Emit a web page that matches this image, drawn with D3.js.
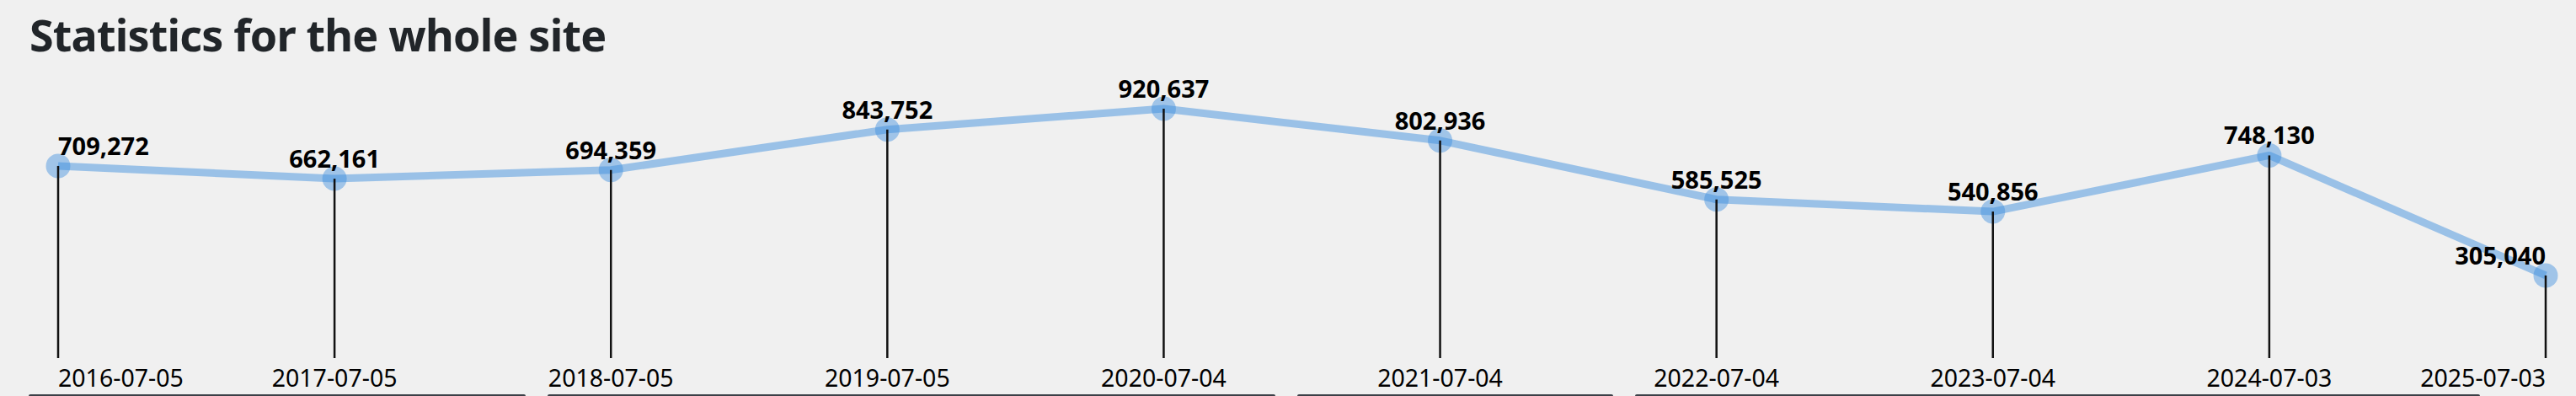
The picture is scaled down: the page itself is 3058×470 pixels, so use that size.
<!DOCTYPE html>
<html>
<head>
<meta charset="utf-8">
<script src="https://cdnjs.cloudflare.com/ajax/libs/d3/7.8.5/d3.min.js"></script>
<style>
  html, body { margin: 0; padding: 0; background: #f0f0f0; }
  svg { display: block; }
</style>
</head>
<body>
<svg id="chart"></svg>
<script>
// data
var dates = ["2016-07-05", "2017-07-05", "2018-07-05", "2019-07-05", "2020-07-04",
             "2021-07-04", "2022-07-04", "2023-07-04", "2024-07-03", "2025-07-03"];
var visits = [709272, 662161, 694359, 843752, 920637, 802936, 585525, 540856, 748130, 305040];
var title = "Statistics for the whole site";

var width = 3058, height = 470;

var svg = d3.select("#chart")
    .attr("width", width)
    .attr("height", height);

svg.append("rect")
    .attr("width", width)
    .attr("height", height)
    .attr("fill", "#f0f0f0");

// title
svg.append("text")
    .attr("x", 35)
    .attr("y", 61)
    .attr("fill", "#212529")
    .style("font-family", "'Noto Sans', sans-serif")
    .style("font-weight", "bold")
    .style("font-size", "52px")
    .style("letter-spacing", "-0.8px")
    .text(title);

var data = dates.map(function(d, i) { return {date: d, value: visits[i]}; });

// scales
var x = d3.scalePoint()
    .domain(dates)
    .range([69, 3022]);

var y = d3.scaleLinear()
    .domain([0, d3.max(visits)])
    .range([425, 129]);

var last = dates.length - 1;
function anchor(d, i) {
    if (i == 0) return "start";
    if (i == last) return "end";
    return "middle";
}

// line
var line = d3.line()
    .x(function(d) { return x(d.date); })
    .y(function(d) { return y(d.value); });

svg.append("path")
    .datum(data)
    .attr("d", line)
    .attr("fill", "none")
    .attr("stroke", "#3d8fdd")
    .attr("stroke-opacity", 0.48)
    .attr("stroke-width", 9)
    .attr("stroke-linejoin", "round");

// dots
svg.selectAll("circle.dot")
    .data(data)
    .enter()
    .append("circle")
    .attr("class", "dot")
    .attr("cx", function(d) { return x(d.date); })
    .attr("cy", function(d) { return y(d.value); })
    .attr("r", 14.5)
    .attr("fill", "#3d8fdd")
    .attr("fill-opacity", 0.45);

// drop lines from each point down to zero
svg.selectAll("line.drop")
    .data(data)
    .enter()
    .append("line")
    .attr("class", "drop")
    .attr("x1", function(d) { return x(d.date); })
    .attr("x2", function(d) { return x(d.date); })
    .attr("y1", function(d) { return y(d.value); })
    .attr("y2", y(0))
    .attr("stroke", "#111")
    .attr("stroke-width", 2.5);

// value labels
var fmt = d3.format(",");
svg.selectAll("text.val")
    .data(data)
    .enter()
    .append("text")
    .attr("class", "val")
    .attr("x", function(d) { return x(d.date); })
    .attr("y", function(d) { return y(d.value) - 13; })
    .attr("text-anchor", anchor)
    .attr("fill", "#000")
    .style("font-family", "'Noto Sans', sans-serif")
    .style("font-weight", "bold")
    .style("font-size", "29px")
    .text(function(d) { return fmt(d.value); });

// date labels
svg.selectAll("text.date")
    .data(data)
    .enter()
    .append("text")
    .attr("class", "date")
    .attr("x", function(d) { return x(d.date); })
    .attr("y", 459)
    .attr("text-anchor", anchor)
    .attr("fill", "#000")
    .style("font-family", "'Noto Sans', sans-serif")
    .style("font-size", "28.5px")
    .text(function(d) { return d.date; });

// tops of the page blocks showing below the chart
var blocks = [[34, 624], [650, 1514], [1540, 1915], [1941, 2944]];
svg.selectAll("rect.block")
    .data(blocks)
    .enter()
    .append("rect")
    .attr("class", "block")
    .attr("x", function(d) { return d[0]; })
    .attr("y", 468)
    .attr("width", function(d) { return d[1] - d[0]; })
    .attr("height", 10)
    .attr("rx", 2)
    .attr("fill", "#3b4047");
</script>
</body>
</html>
